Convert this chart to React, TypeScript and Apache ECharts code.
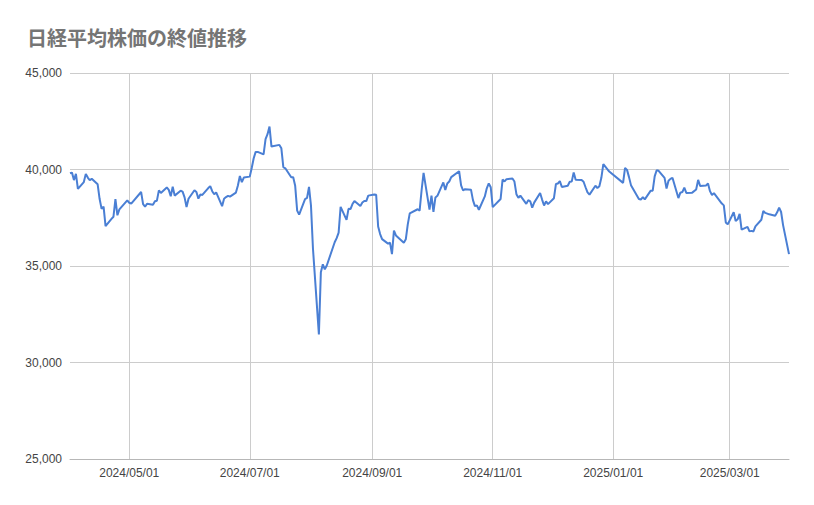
import React, { useEffect, useRef } from "react";
import * as echarts from "echarts";

const chartTitle = "日経平均株価の終値推移";

// x-axis range and tick labels
const xRange = ["2024/04/01", "2025/03/31"];
const xTickLabels = ["2024/05/01", "2024/07/01", "2024/09/01", "2024/11/01", "2025/01/01", "2025/03/01"];

// y-axis
const yMin = 25000;
const yMax = 45000;
const yInterval = 5000;

// Q2 2024 (Apr-Jun)
const datesQ2_2024 = [
  "2024-04-01","2024-04-02","2024-04-03","2024-04-04","2024-04-05","2024-04-08","2024-04-09","2024-04-10","2024-04-11","2024-04-12",
  "2024-04-15","2024-04-16","2024-04-17","2024-04-18","2024-04-19","2024-04-22","2024-04-23","2024-04-24","2024-04-25","2024-04-26","2024-04-30",
  "2024-05-01","2024-05-02","2024-05-07","2024-05-08","2024-05-09","2024-05-10","2024-05-13","2024-05-14","2024-05-15","2024-05-16",
  "2024-05-17","2024-05-20","2024-05-21","2024-05-22","2024-05-23","2024-05-24","2024-05-27","2024-05-28","2024-05-29","2024-05-30","2024-05-31",
  "2024-06-03","2024-06-04","2024-06-05","2024-06-06","2024-06-07","2024-06-10","2024-06-11","2024-06-12","2024-06-13","2024-06-14",
  "2024-06-17","2024-06-18","2024-06-19","2024-06-20","2024-06-21","2024-06-24","2024-06-25","2024-06-26","2024-06-27","2024-06-28",
];
const closesQ2_2024 = [
  39803,39838,39451,39773,38992,39347,39773,39581,39442,39523,
  39232,38471,37961,38079,37068,37438,37552,38460,37628,37934,38405,
  38274,38236,38835,38202,38073,38229,38179,38356,38385,38920,
  38787,39069,38946,38617,39103,38646,38900,38855,38556,38054,38487,
  38923,38837,38490,38703,38683,39038,39134,38876,38720,38814,
  38102,38482,38570,38633,38596,38804,39173,39667,39341,39583,
];

// Q3 2024 (Jul-Sep)
const datesQ3_2024 = [
  "2024-07-01","2024-07-02","2024-07-03","2024-07-04","2024-07-05","2024-07-08","2024-07-09","2024-07-10","2024-07-11","2024-07-12",
  "2024-07-16","2024-07-17","2024-07-18","2024-07-19","2024-07-22","2024-07-23","2024-07-24","2024-07-25","2024-07-26","2024-07-29","2024-07-30","2024-07-31",
  "2024-08-01","2024-08-02","2024-08-05","2024-08-06","2024-08-07","2024-08-08","2024-08-09","2024-08-13","2024-08-14","2024-08-15",
  "2024-08-16","2024-08-19","2024-08-20","2024-08-21","2024-08-22","2024-08-23","2024-08-26","2024-08-27","2024-08-28","2024-08-29","2024-08-30",
  "2024-09-02","2024-09-03","2024-09-04","2024-09-05","2024-09-06","2024-09-09","2024-09-10","2024-09-11","2024-09-12","2024-09-13",
  "2024-09-17","2024-09-18","2024-09-19","2024-09-20","2024-09-24","2024-09-25","2024-09-26","2024-09-27","2024-09-30",
];
const closesQ3_2024 = [
  39631,40074,40580,40913,40912,40780,41580,41831,42224,41190,
  41275,41097,40126,40063,39599,39594,39154,37869,37667,38468,38525,39101,
  38126,35909,31458,34675,35089,34831,35025,36232,36442,36726,
  38062,37388,37963,37951,38211,38364,38110,38288,38371,38362,38647,
  38700,38686,37047,36657,36391,36159,36215,35619,36833,36581,
  36203,36380,37155,37723,37940,37870,38925,39829,37919,
];

// Q4 2024 (Oct-Dec)
const datesQ4_2024 = [
  "2024-10-01","2024-10-02","2024-10-03","2024-10-04","2024-10-07","2024-10-08","2024-10-09","2024-10-10","2024-10-11","2024-10-15",
  "2024-10-16","2024-10-17","2024-10-18","2024-10-21","2024-10-22","2024-10-23","2024-10-24","2024-10-25","2024-10-28","2024-10-29","2024-10-30","2024-10-31",
  "2024-11-01","2024-11-05","2024-11-06","2024-11-07","2024-11-08","2024-11-11","2024-11-12","2024-11-13","2024-11-14","2024-11-15",
  "2024-11-18","2024-11-19","2024-11-20","2024-11-21","2024-11-22","2024-11-25","2024-11-26","2024-11-27","2024-11-28","2024-11-29",
  "2024-12-02","2024-12-03","2024-12-04","2024-12-05","2024-12-06","2024-12-09","2024-12-10","2024-12-11","2024-12-12","2024-12-13",
  "2024-12-16","2024-12-17","2024-12-18","2024-12-19","2024-12-20","2024-12-23","2024-12-24","2024-12-25","2024-12-26","2024-12-27","2024-12-30",
];
const closesQ4_2024 = [
  38651,37808,38552,38635,39332,38937,39277,39380,39605,39910,
  39180,38911,38981,38954,38411,38104,38143,37913,38605,39027,39277,39081,
  38053,38474,39480,39381,39500,39533,39376,38721,38536,38642,
  38220,38414,38352,38026,38283,38780,38442,38134,38349,38208,
  38513,39248,39276,39395,39091,39160,39367,39372,39849,39470,
  39457,39364,39081,38813,38701,39161,39037,39130,39568,40281,39894,
];

// Q1 2025 (Jan-Mar)
const datesQ1_2025 = [
  "2025-01-06","2025-01-07","2025-01-08","2025-01-09","2025-01-10","2025-01-14","2025-01-15","2025-01-16","2025-01-17",
  "2025-01-20","2025-01-21","2025-01-22","2025-01-23","2025-01-24","2025-01-27","2025-01-28","2025-01-29","2025-01-30","2025-01-31",
  "2025-02-03","2025-02-04","2025-02-05","2025-02-06","2025-02-07","2025-02-10","2025-02-12","2025-02-13","2025-02-14",
  "2025-02-17","2025-02-18","2025-02-19","2025-02-20","2025-02-21","2025-02-25","2025-02-26","2025-02-27","2025-02-28",
  "2025-03-03","2025-03-04","2025-03-05","2025-03-06","2025-03-07","2025-03-10","2025-03-11","2025-03-12","2025-03-13","2025-03-14",
  "2025-03-17","2025-03-18","2025-03-19","2025-03-21","2025-03-24","2025-03-25","2025-03-26","2025-03-27","2025-03-28","2025-03-31",
];
const closesQ1_2025 = [
  39307,40083,39981,39605,39190,38474,38445,38572,38451,
  38903,38902,39646,39958,39931,39565,39016,39414,39513,39572,
  38520,38798,38831,39066,38787,38801,38963,39461,39149,
  39174,39270,38878,38678,38776,38237,38142,37256,37155,
  37785,37331,37418,37704,36887,37028,36793,36819,36790,37053,
  37396,37845,37751,37677,37608,37780,38027,37799,37120,35617,
];

const toTs = (s: string) => {
  const [y, m, d] = s.split(/[-\/]/).map(Number);
  return new Date(y, m - 1, d).getTime();
};

const pad = (n: number) => (n < 10 ? "0" + n : "" + n);
const fmtDate = (v: number) => {
  const d = new Date(v);
  return d.getFullYear() + "/" + pad(d.getMonth() + 1) + "/" + pad(d.getDate());
};

export default function App() {
  const ref = useRef<HTMLDivElement>(null);

  useEffect(() => {
    if (!ref.current) return;
    const chart = echarts.init(ref.current, undefined, { renderer: "svg" });

    const allDates = [...datesQ2_2024, ...datesQ3_2024, ...datesQ4_2024, ...datesQ1_2025];
    const allCloses = [...closesQ2_2024, ...closesQ3_2024, ...closesQ4_2024, ...closesQ1_2025];
    const seriesData = allDates.map((d, i) => [toTs(d), allCloses[i]]);
    const tickTs = xTickLabels.map(toTs);
    const labelFont = "Arial, 'Liberation Sans', Roboto, sans-serif";

    chart.setOption({
      animation: false,
      backgroundColor: "#ffffff",
      title: {
        text: chartTitle,
        left: 27,
        top: 27,
        padding: 0,
        textStyle: {
          fontFamily: "'Noto Sans CJK JP', 'Noto Sans', sans-serif",
          fontSize: 20,
          fontWeight: "bold",
          color: "#757575",
        },
      },
      grid: { left: 70, right: 25, top: 73, bottom: 46, containLabel: false },
      xAxis: {
        type: "value",
        min: toTs(xRange[0]),
        max: toTs(xRange[1]),
        axisLine: { show: true, lineStyle: { color: "#b7b7b7", width: 1 } },
        axisTick: { show: false, customValues: tickTs },
        axisLabel: {
          customValues: tickTs,
          formatter: (v: number) => fmtDate(v),
          color: "#444444",
          fontSize: 12,
          fontFamily: labelFont,
          margin: 8,
          hideOverlap: false,
        },
        splitLine: { show: true, lineStyle: { color: "#cccccc", width: 1 } },
      },
      yAxis: {
        type: "value",
        min: yMin,
        max: yMax,
        interval: yInterval,
        axisLine: { show: false },
        axisTick: { show: false },
        axisLabel: {
          formatter: (v: number) => v.toLocaleString("en-US"),
          color: "#444444",
          fontSize: 12,
          fontFamily: labelFont,
          margin: 8,
        },
        splitLine: { show: true, lineStyle: { color: "#cccccc", width: 1 } },
      },
      series: [
        {
          type: "line",
          data: seriesData,
          showSymbol: false,
          symbol: "none",
          lineStyle: { color: "#4a7fd4", width: 2 },
          itemStyle: { color: "#4a7fd4" },
        },
      ],
    });

    return () => chart.dispose();
  }, []);

  return (
    <div
      ref={ref}
      style={{ position: "absolute", left: 0, top: 0, width: 814, height: 505 }}
    />
  );
}
